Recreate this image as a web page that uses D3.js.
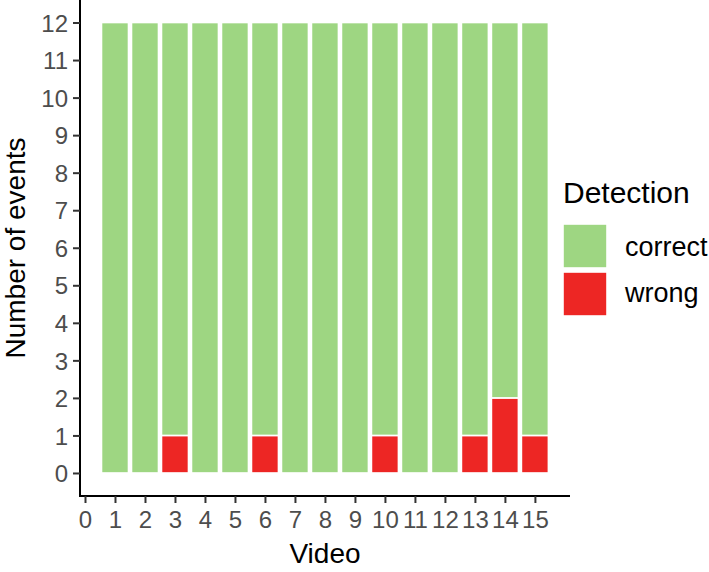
<!DOCTYPE html>
<html>
<head>
<meta charset="utf-8">
<script src="https://cdn.jsdelivr.net/npm/d3@7"></script>
<style>
  body { margin: 0; background: #fff; }
  text { font-family: "Liberation Sans", Arial, sans-serif; }
</style>
</head>
<body>
<div id="chart"></div>
<script>
// videos and detection counts
const videos = [1, 2, 3, 4, 5, 6, 7, 8, 9, 10, 11, 12, 13, 14, 15];
const wrong = [0, 0, 1, 0, 0, 1, 0, 0, 0, 1, 0, 0, 1, 2, 1];
const correct = [12, 12, 11, 12, 12, 11, 12, 12, 12, 11, 12, 12, 11, 10, 11];
const detections = ['correct', 'wrong'];
const xTicks = d3.range(0, 16);
const yTicks = d3.range(0, 13);

const width = 709, height = 572;
const colors = d3.scaleOrdinal()
	.domain(detections)
	.range(['#9ed682', '#ed2624']);

const svg = d3.select('#chart').append('svg')
	.attr('width', width)
	.attr('height', height);

const panel = { left: 80, right: 570, top: 0, bottom: 496 };

const x = d3.scaleLinear()
	.domain([-0.2, 16.17])
	.range([79, 570]);

const y = d3.scaleLinear()
	.domain([-0.6, 12.6])
	.range([495.5, 0]);

// build stacked table: wrong at the bottom, correct on top
const table = videos.map((v, i) => ({ video: v, wrong: wrong[i], correct: correct[i] }));
const stacked = d3.stack().keys(['wrong', 'correct'])(table);

const barW = 0.9;

svg.append('g')
	.selectAll('g')
	.data(stacked)
	.enter()
		.append('g')
		.attr('fill', d => colors(d.key))
		.selectAll('rect')
		.data(d => d.filter(s => s[1] > s[0]))
		.enter()
			.append('rect')
			.attr('x', d => x(d.data.video - barW / 2))
			.attr('width', d => x(barW) - x(0))
			.attr('y', d => y(d[1]))
			.attr('height', d => y(d[0]) - y(d[1]))
			.style('stroke', '#fff')
			.style('stroke-width', 1.6);

// y axis
const yAxis = svg.append('g')
	.attr('transform', `translate(${panel.left},0)`)
	.call(d3.axisLeft(y).tickValues(yTicks).tickSize(7).tickPadding(5));
yAxis.select('.domain')
	.attr('d', `M0,${panel.top}V${panel.bottom + 1}`)
	.attr('stroke', '#000')
	.attr('stroke-width', 2);
yAxis.selectAll('.tick line').attr('stroke', '#333').attr('stroke-width', 2);
yAxis.selectAll('.tick text')
	.attr('fill', '#4d4d4d')
	.style('font-size', '24px')
	.attr('dy', '0.36em');

// x axis
const xAxis = svg.append('g')
	.attr('transform', `translate(0,${panel.bottom})`)
	.call(d3.axisBottom(x).tickValues(xTicks).tickSize(7).tickPadding(8));
xAxis.select('.domain')
	.attr('d', `M${panel.left - 1},0H${panel.right}`)
	.attr('stroke', '#000')
	.attr('stroke-width', 2);
xAxis.selectAll('.tick line').attr('stroke', '#333').attr('stroke-width', 2);
xAxis.selectAll('.tick text')
	.attr('fill', '#4d4d4d')
	.style('font-size', '24px');

// axis titles
svg.append('text')
	.attr('x', (panel.left + panel.right) / 2)
	.attr('y', 563)
	.attr('text-anchor', 'middle')
	.style('font-size', '28px')
	.text('Video');

svg.append('text')
	.attr('transform', 'translate(25,248) rotate(-90)')
	.attr('text-anchor', 'middle')
	.style('font-size', '28px')
	.text('Number of events');

// legend
const legend = svg.append('g').attr('transform', 'translate(563,0)');
legend.append('text')
	.attr('x', 0)
	.attr('y', 203)
	.style('font-size', '30px')
	.text('Detection');

detections.forEach((det, idx) => {
	legend.append('rect')
		.attr('x', 0)
		.attr('y', 224 + idx * 48)
		.attr('width', 44)
		.attr('height', 44)
		.attr('fill', colors(det))
		.style('stroke', '#fff')
		.style('stroke-width', 1.6);
	legend.append('text')
		.attr('x', 62)
		.attr('y', 256 + idx * 46)
		.style('font-size', '27px')
		.text(det);
});
</script>
</body>
</html>
